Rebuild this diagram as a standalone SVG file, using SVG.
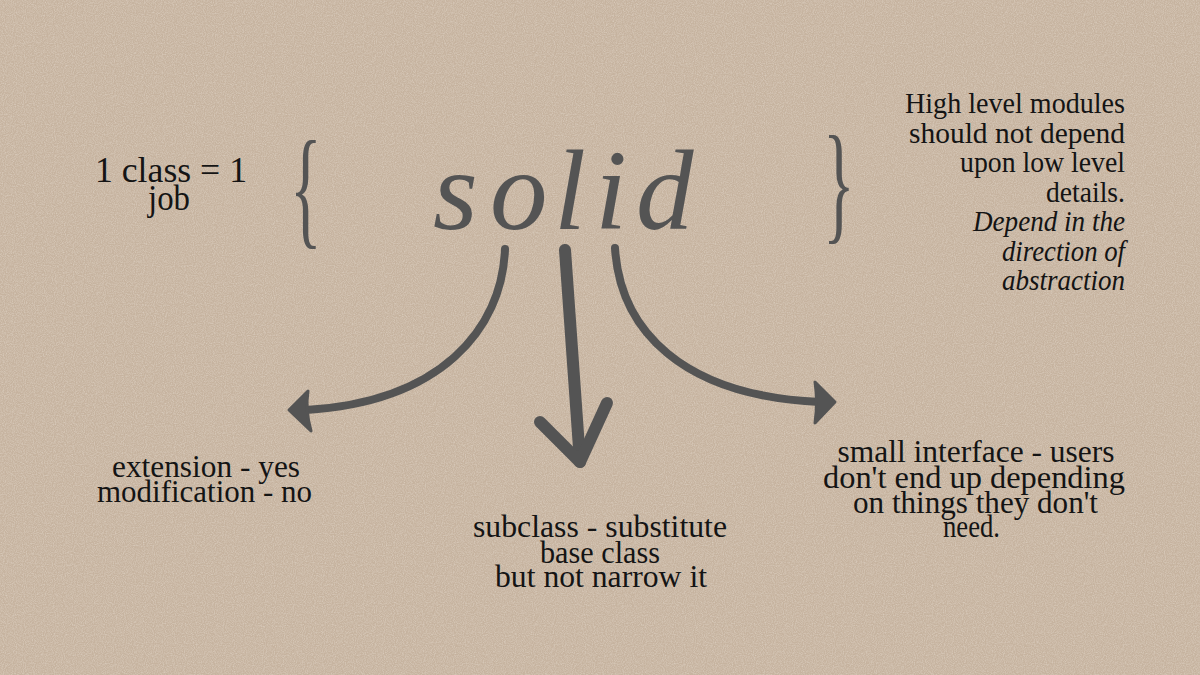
<svg xmlns="http://www.w3.org/2000/svg" width="1200" height="675" viewBox="0 0 1200 675">
  <style>
    text { font-family: 'Liberation Serif', 'DejaVu Serif', serif; }
    .t { fill: #141414; }
    .it { font-style: italic; }
    .gray { fill: #545454; }
    .curve { fill: none; stroke: #545454; stroke-width: 8; stroke-linecap: round; }
    .shaft { fill: none; stroke: #545454; stroke-width: 12; stroke-linecap: round; stroke-linejoin: round; }
    .head { fill: #545454; stroke: #545454; stroke-width: 3; stroke-linejoin: round; }
  </style>
  <defs>
    <filter id="grain" x="0" y="0" width="100%" height="100%">
      <feTurbulence type="fractalNoise" baseFrequency="0.9" numOctaves="2" seed="4" result="n"/>
      <feColorMatrix type="matrix" values="0 0 0 0 1  0 0 0 0 0.97  0 0 0 0 0.92  0 0 0 -1.6 1.05"/>
    </filter>
  </defs>
  <rect width="1200" height="675" fill="#C6B39F"/>
  <rect width="1200" height="675" filter="url(#grain)" opacity="0.35"/>

  <g id="title">
    <text class="gray it" font-size="115" y="229"><tspan x="433">s</tspan><tspan x="490">o</tspan><tspan x="554">l</tspan><tspan x="595">i</tspan><tspan x="636">d</tspan></text>
  </g>

  <g id="braces">
    <text class="gray" font-size="132" transform="translate(290,231) scale(0.5,1)">{</text>
    <text class="gray" font-size="132" transform="translate(823,226) scale(0.5,1)">}</text>
  </g>

  <g id="single-responsibility">
    <text class="t" font-size="36" text-anchor="middle" x="171" y="182" textLength="152" lengthAdjust="spacingAndGlyphs">1 class = 1</text>
    <text class="t" font-size="36" text-anchor="middle" x="169" y="210" textLength="42" lengthAdjust="spacingAndGlyphs">job</text>
  </g>

  <g id="dependency-inversion">
    <text class="t" font-size="29" text-anchor="end" x="1125" y="113" textLength="220" lengthAdjust="spacingAndGlyphs">High level modules</text>
    <text class="t" font-size="29" text-anchor="end" x="1125" y="142.5" textLength="216" lengthAdjust="spacingAndGlyphs">should not depend</text>
    <text class="t" font-size="29" text-anchor="end" x="1125" y="172" textLength="165" lengthAdjust="spacingAndGlyphs">upon low level</text>
    <text class="t" font-size="29" text-anchor="end" x="1125" y="201.5" textLength="79" lengthAdjust="spacingAndGlyphs">details.</text>
    <text class="t it" font-size="29" text-anchor="end" x="1125" y="231" textLength="152" lengthAdjust="spacingAndGlyphs">Depend in the</text>
    <text class="t it" font-size="29" text-anchor="end" x="1125" y="260.5" textLength="123" lengthAdjust="spacingAndGlyphs">direction of</text>
    <text class="t it" font-size="29" text-anchor="end" x="1125" y="290" textLength="123" lengthAdjust="spacingAndGlyphs">abstraction</text>
  </g>

  <g id="open-closed">
    <text class="t" font-size="31" text-anchor="middle" x="206" y="477" textLength="188" lengthAdjust="spacingAndGlyphs">extension - yes</text>
    <text class="t" font-size="31" text-anchor="middle" x="204.5" y="502" textLength="215" lengthAdjust="spacingAndGlyphs">modification - no</text>
  </g>

  <g id="liskov-substitution">
    <text class="t" font-size="31" text-anchor="middle" x="600" y="537" textLength="254" lengthAdjust="spacingAndGlyphs">subclass - substitute</text>
    <text class="t" font-size="31" text-anchor="middle" x="600" y="563" textLength="120" lengthAdjust="spacingAndGlyphs">base class</text>
    <text class="t" font-size="31" text-anchor="middle" x="601" y="587" textLength="212" lengthAdjust="spacingAndGlyphs">but not narrow it</text>
  </g>

  <g id="interface-segregation">
    <text class="t" font-size="31" text-anchor="middle" x="976" y="462" textLength="277" lengthAdjust="spacingAndGlyphs">small interface - users</text>
    <text class="t" font-size="31" text-anchor="middle" x="974" y="488" textLength="302" lengthAdjust="spacingAndGlyphs">don't end up depending</text>
    <text class="t" font-size="31" text-anchor="middle" x="975.5" y="513" textLength="245" lengthAdjust="spacingAndGlyphs">on things they don't</text>
    <text class="t" font-size="31" text-anchor="middle" x="971.5" y="537" textLength="57" lengthAdjust="spacingAndGlyphs">need.</text>
  </g>

  <g id="connectors">
    <path class="curve" d="M505,249 C502,330 440,402 306,410"/>
    <path class="head" d="M289,410 L308,391 Q305,410 311,431 Z"/>
    <path class="curve" d="M615,248 C620,330 682,396 820,402"/>
    <path class="head" d="M835,402 L815,382 Q818,402 815,423 Z"/>
    <path class="shaft" d="M565,250 L580,462"/>
    <path class="shaft" d="M540,422 L580,462 L607,403"/>
  </g>
</svg>
